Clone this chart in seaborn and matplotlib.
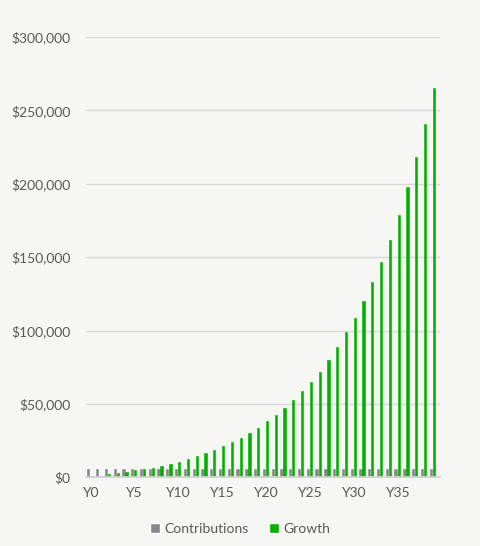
import numpy as np
import pandas as pd
import matplotlib
matplotlib.use("Agg")
import matplotlib.pyplot as plt
import seaborn as sns
from matplotlib.ticker import FuncFormatter

# Data
years = [f"Y{i}" for i in range(40)]
contributions = [5500] * 40
growth = [
    600, 1000, 2000, 2800, 3600, 4700, 5300, 6200, 7800, 8800,
    10700, 12500, 14200, 16700, 18600, 21200, 23800, 26700, 30300, 33800,
    38200, 42700, 47200, 52500, 58800, 65000, 72000, 80000, 89000, 98700,
    108400, 120300, 133400, 146600, 161900, 179000, 197700, 218000, 240500, 265500,
]
series_names = ["Contributions", "Growth"]
bar_colors = ["#888888", "#00b000"]
tick_years = ["Y0", "Y5", "Y10", "Y15", "Y20", "Y25", "Y30", "Y35"]

df = pd.DataFrame({
    "year": years * 2,
    "series": [series_names[0]] * 40 + [series_names[1]] * 40,
    "value": contributions + growth,
})

bg = "#f6f6f3"
sns.set_theme(style="white")
plt.rcParams["font.family"] = ["Lato", "DejaVu Sans"]

fig, ax = plt.subplots(figsize=(4.8, 5.46), dpi=100)
fig.patch.set_facecolor(bg)
ax.set_facecolor(bg)

sns.barplot(data=df, x="year", y="value", hue="series", order=years,
            hue_order=series_names, palette=bar_colors, width=0.7, gap=0.25,
            saturation=1, ax=ax)
# thin edge in the bar colour keeps the narrow bars visible
for p in ax.patches:
    p.set_edgecolor(p.get_facecolor())
    p.set_linewidth(0.4)

ax.set_ylim(0, 300000)
ax.set_xlim(-0.45, 39.9)
ax.yaxis.set_major_formatter(FuncFormatter(lambda v, p: f"${v:,.0f}"))
ax.set_yticks(np.arange(0, 300001, 50000))
ax.set_xticks([years.index(t) for t in tick_years])
ax.set_xticklabels(tick_years)
ax.set_xlabel("")
ax.set_ylabel("")
ax.grid(axis="y", color="#d9d9d9", linewidth=1)
ax.set_axisbelow(True)
for s in ["top", "right", "left"]:
    ax.spines[s].set_visible(False)
ax.spines["bottom"].set_color("#d0d0d0")
ax.tick_params(axis="both", length=0, labelsize=10, labelcolor="#595959")
ax.tick_params(axis="y", pad=11)
ax.tick_params(axis="x", pad=7)

sns.move_legend(ax, "center", bbox_to_anchor=(0.5, 0.032),
                bbox_transform=fig.transFigure, ncol=2,
                frameon=False, title=None, fontsize=10, handlelength=0.7,
                handleheight=0.7, handletextpad=0.3, columnspacing=1.5)
for t in ax.get_legend().get_texts():
    t.set_color("#595959")

plt.subplots_adjust(left=0.179, right=0.917, top=0.932, bottom=0.126)
fig.savefig("out.png", dpi=100, facecolor=bg)
